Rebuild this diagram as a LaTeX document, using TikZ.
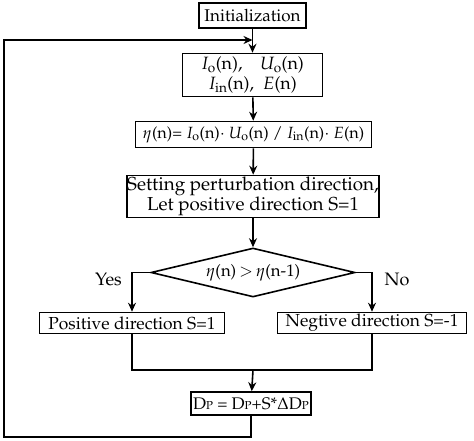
\documentclass[tikz,border=0pt]{standalone}
\usepackage[T1]{fontenc}
\usepackage{mathpazo}
\usetikzlibrary{arrows.meta,shapes.geometric}
\begin{document}
\begin{tikzpicture}[x=1pt,y=-1pt,
    line width=1.6pt,
    >={Stealth[length=9pt,width=8pt]},
    every node/.style={font=\fontsize{17.4}{19}\selectfont},
    block/.style={draw, rectangle, inner sep=0pt, align=center},
    decide/.style={draw, diamond, aspect=4, inner sep=0pt}]
    \useasboundingbox (0,0) rectangle (474,440);

    % main column of steps
    \node[block, minimum width=107, minimum height=25, font=\fontsize{17}{19}\selectfont] (init) at (252.5,15.5) {Initialization};
    \node[block, minimum width=140, minimum height=43, font=\fontsize{17.8}{20}\selectfont] (vars) at (252.5,75)
        {$I_{\mathrm{o}}$(n),\quad $U_{\mathrm{o}}$(n)\\ $I_{\mathrm{in}}$(n),\ \ $E$(n)};
    \node[block, minimum width=236, minimum height=26, font=\fontsize{16.2}{18}\selectfont] (eta) at (253.5,134.5)
        {$\eta$(n)= $I_{\mathrm{o}}$(n)$\cdot$ $U_{\mathrm{o}}$(n) / $I_{\mathrm{in}}$(n)$\cdot$ $E$(n)};
    \node[block, minimum width=249, minimum height=42, font=\fontsize{18.8}{18}\selectfont] (set) at (253,196.5)
        {Setting perturbation direction,\\ Let positive direction S=1};
    \node[decide, minimum width=204, minimum height=49, font=\fontsize{16.7}{19}\selectfont] (test) at (253,272.5)
        {$\eta$(n)\,$>$\,$\eta$(n-1)};

    % the two branches
    \node[block, minimum width=185, minimum height=21] (pos) at (132,323) {Positive direction S=1};
    \node[block, minimum width=189, minimum height=21] (neg) at (372,323) {Negtive direction S=-1};
    \node[font=\fontsize{18}{19}\selectfont] (yes) at (108.5,279) {Yes};
    \node[font=\fontsize{18}{19}\selectfont] (no) at (397,279) {No};

    \node[block, minimum width=120, minimum height=23, font=\fontsize{16.8}{19}\selectfont] (dp) at (251,403.5)
        {D{\fontsize{11.5}{11}\selectfont P} = D{\fontsize{11.5}{11}\selectfont P}+S*$\Delta$D{\fontsize{11.5}{11}\selectfont P}};

    \coordinate (join) at (253,370);
    \coordinate (back1) at (4,437);
    \coordinate (entry) at (252.5,40);

    \draw[->] (init) -- (vars);
    \draw[->] (vars) -- (eta);
    \draw[->] (eta) -- (set);
    \draw[->] (set) -- (test);
    \draw[->] (test.west) -| (pos.north);
    \draw[->] (test.east) -| (neg.north);
    \draw (pos.south) |- (join) -| (neg.south);
    \draw[->] (join) -- (dp);

    % loop back to the top
    \draw[->] (dp.south) |- (back1) |- (entry);
\end{tikzpicture}
\end{document}
